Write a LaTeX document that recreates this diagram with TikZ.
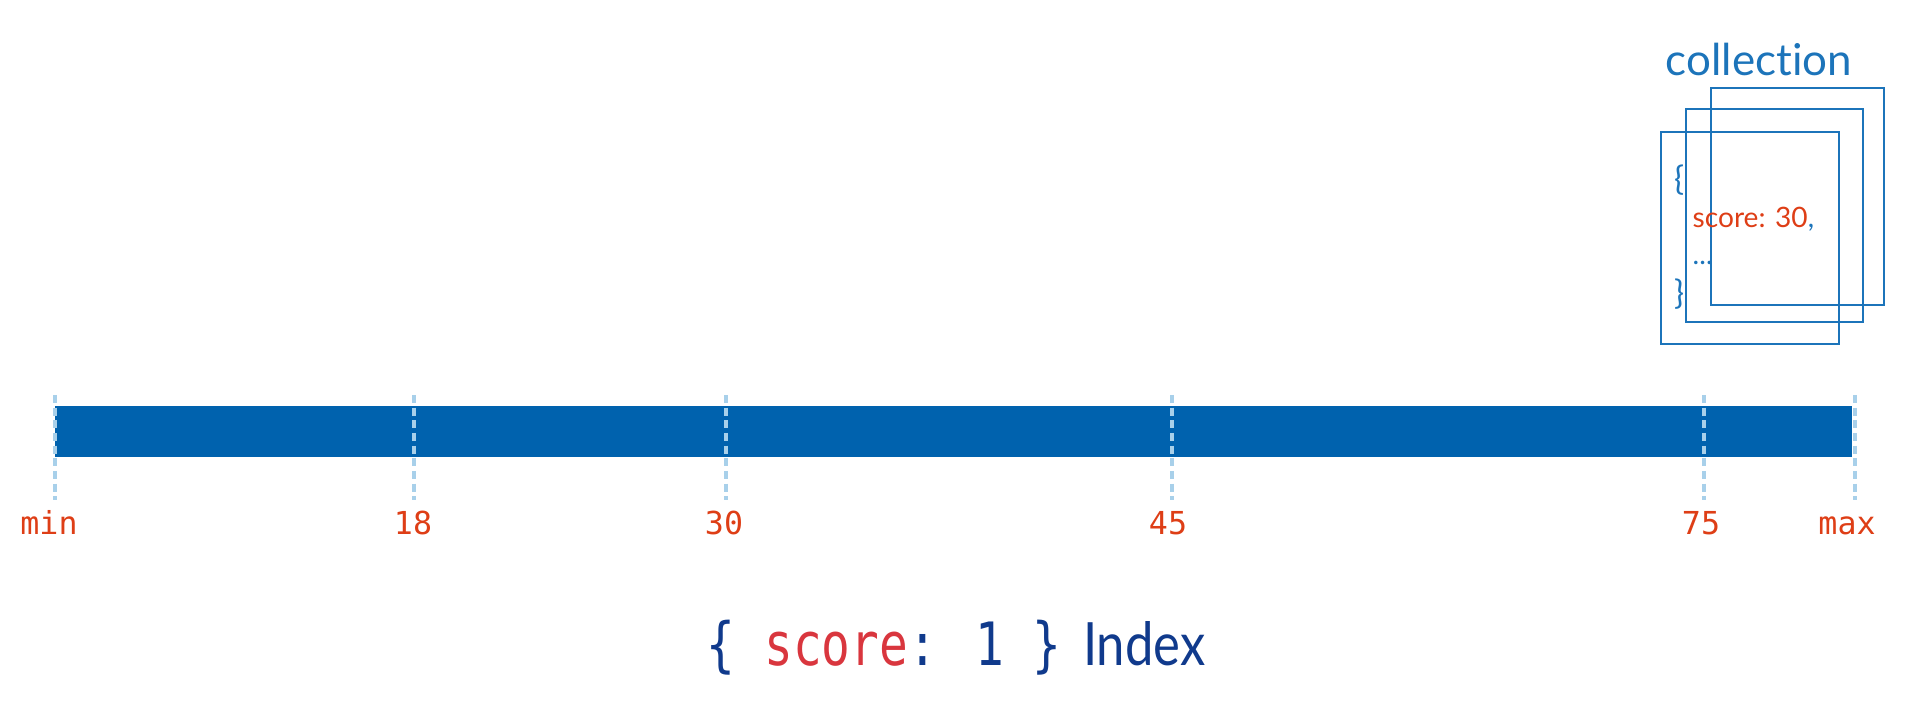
\documentclass[tikz,border=0pt]{standalone}
\usepackage{fontspec}
\setmainfont{Lato}[Ligatures={NoCommon}]
\newfontfamily\narrowfont{Lato}[FakeStretch=0.85, Ligatures={NoCommon}]
\newfontfamily\tickfont{DejaVu Sans Mono}
\newfontfamily\keyfont[FakeStretch=0.8]{DejaVu Sans Mono}
\usepackage{tikz}
\usetikzlibrary{positioning}

\definecolor{barblue}{RGB}{0,98,174}
\definecolor{tickblue}{RGB}{168,208,234}
\definecolor{numred}{RGB}{222,62,22}
\definecolor{docblue}{RGB}{28,116,186}
\definecolor{keyred}{RGB}{217,54,62}
\definecolor{keyblue}{RGB}{16,58,140}

\tikzset{
tick/.style={tickblue, line width=1pt, dash pattern=on 2.3pt off 1.3pt},
ticklabel/.style={anchor=base, inner sep=0pt, numred, font=\tickfont\fontsize{9}{10}\selectfont},
docpage/.style={docblue, line width=0.6pt},
doctext/.style={anchor=base west, inner sep=0pt, font=\fontsize{8}{9}\selectfont},
docbrace/.style={docblue, inner sep=0pt, font=\fontsize{9.5}{10}\selectfont}
}

\begin{document}
\begin{tikzpicture}
\useasboundingbox (0,0) rectangle (19.2,7.11);
% the index range
\fill[barblue] (0.55,2.54) rectangle (18.52,3.05);
\foreach \x/\l/\t in
{
0.55/0.49/min, 4.14/4.13/18, 7.26/7.24/30,
11.72/11.68/45, 17.04/17.01/75, 18.55/18.47/max
}
{
\draw[tick] (\x,3.16) -- (\x,2.11);
\node[ticklabel] (lbl-\t) at (\l,1.76) {\t};
}
% the collection
\draw[docpage] (17.11,4.06) rectangle (18.84,6.23);
\draw[docpage] (16.86,3.89) rectangle (18.63,6.02);
\draw[docpage] (16.61,3.67) rectangle (18.39,5.79);
\node[anchor=base, inner sep=0pt, docblue, font=\fontsize{12.5}{14}\selectfont]
(coll) at (17.59,6.35) {collection};
\node[docbrace] (open) at (16.79,5.31) {\{};
\node[doctext, numred] (field) at (16.92,4.83) {score: 30\textcolor{docblue}{,}};
\node[doctext, docblue] (more) at (16.92,4.46) {...};
\node[docbrace] (close) at (16.79,4.17) {\}};
% the index name
\node[anchor=base west, inner sep=0pt, keyblue, font=\keyfont\fontsize{17}{20}\selectfont]
(key) at (7.06,0.45) {\{ \textcolor{keyred}{score}: 1 \}};
\node[base right=0.2cm of key, inner sep=0pt, keyblue, font=\narrowfont\fontsize{17}{20}\selectfont]
(idx) {Index};
\end{tikzpicture}
\end{document}
